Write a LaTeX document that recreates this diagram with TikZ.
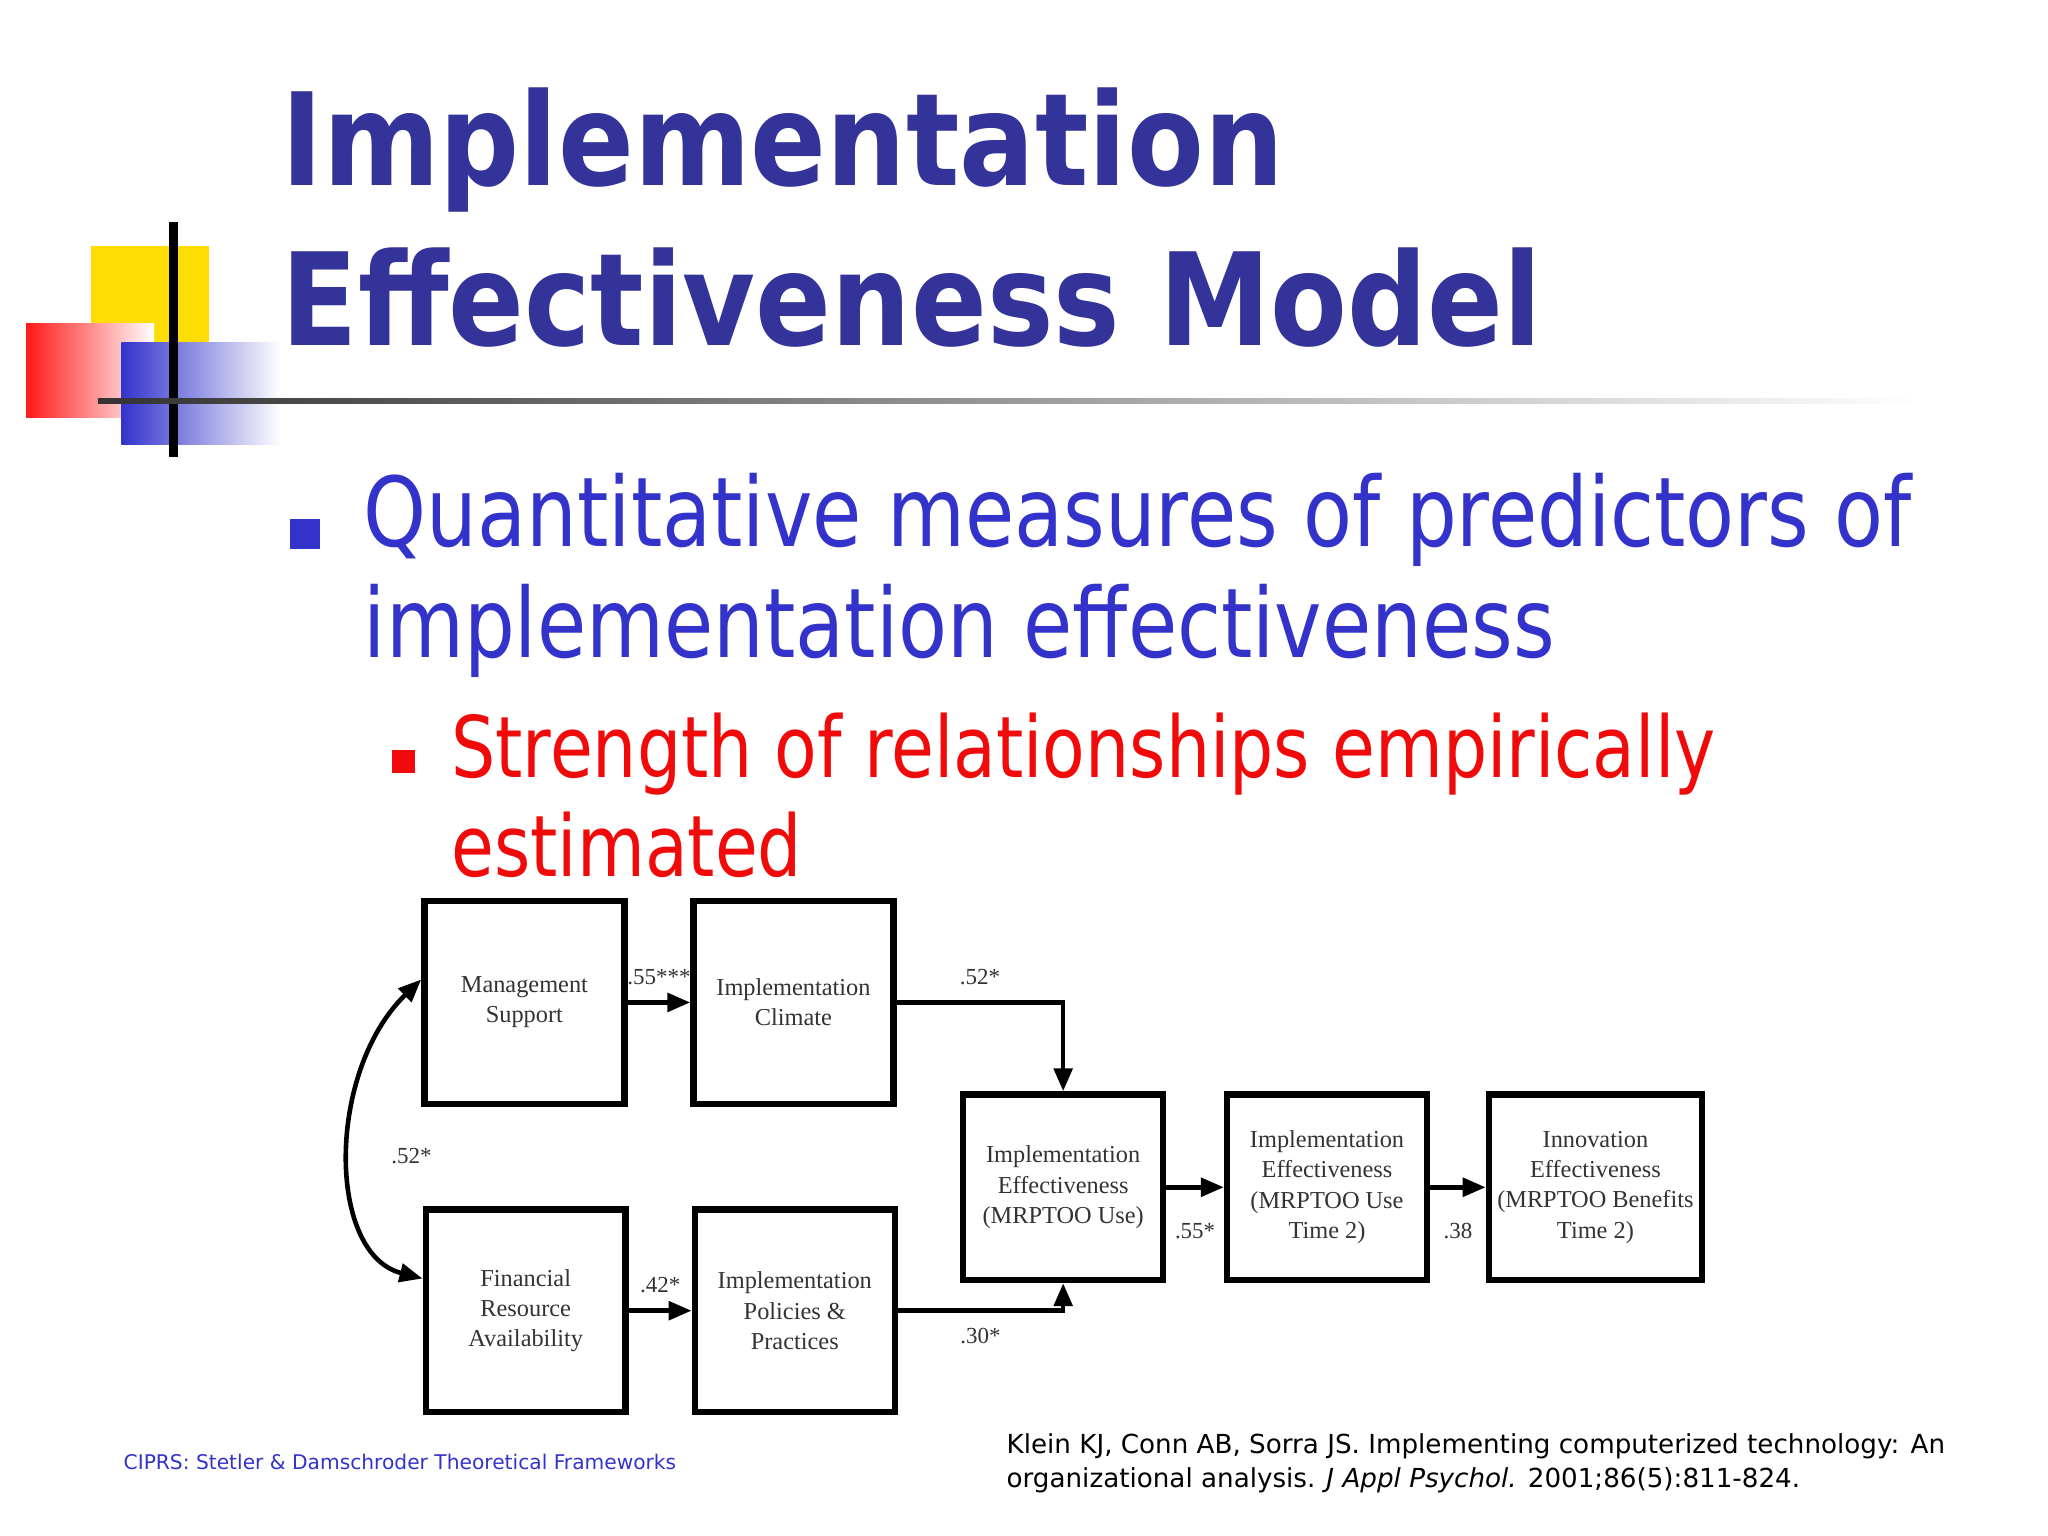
\documentclass[tikz,border=0pt]{standalone}
\usepackage{fontspec}
\setmainfont{DejaVu Sans}
\newfontfamily\serf{Liberation Serif}
\usetikzlibrary{arrows.meta}
\definecolor{tblue}{RGB}{51,51,153}
\definecolor{bblue}{RGB}{51,51,204}
\definecolor{bred}{RGB}{240,10,10}
\begin{document}
\begin{tikzpicture}[x=0.01cm,y=-0.01cm,
 box/.style={draw,line width=1.4pt,minimum width=1.53cm,minimum height=1.55cm,inner sep=0,font=\serf\fontsize{5.3}{6.6}\selectfont,align=center,text=black!80},
 box2/.style={box,minimum height=1.42cm},
 lab/.style={font=\serf\fontsize{5}{6}\selectfont,text=black!80},
 arr/.style={-{Triangle[length=5pt,width=4pt]},line width=1pt}]
\useasboundingbox (0,0) rectangle (1568,1176);
\fill[white] (0,0) rectangle (1568,1176);
% decoration
\fill[yellow!80!orange] (70,188) rectangle (160,262);
\shade[left color=red!90,right color=white] (20,248) rectangle (118,320);
\shade[left color=bblue,right color=white] (93,262) rectangle (215,340);
\draw[line width=2pt] (133,170) -- (133,350);
\shade[left color=black!80,right color=white] (75,305) rectangle (1470,309);
% title
\node[anchor=west,inner sep=0,text=tblue,font=\bfseries\fontsize{28}{32}\selectfont,xscale=0.87] (t1) at (215,115) {Implementation};
\node[anchor=west,inner sep=0,text=tblue,font=\bfseries\fontsize{28}{32}\selectfont,xscale=0.87] (t2) at (215,228) {Effectiveness Model};
% bullets
\fill[bblue] (222,397) rectangle (245,420);
\node[anchor=west,inner sep=0,text=bblue,font=\fontsize{21}{24}\selectfont,xscale=0.83] (b1) at (278,398) {Quantitative measures of predictors of};
\node[anchor=west,inner sep=0,text=bblue,font=\fontsize{21}{24}\selectfont,xscale=0.83] (b2) at (278,483) {implementation effectiveness};
\fill[bred] (300,574) rectangle (318,592);
\node[anchor=west,inner sep=0,text=bred,font=\fontsize{18.5}{22}\selectfont,xscale=0.82] (b3) at (345,577) {Strength of relationships empirically};
\node[anchor=west,inner sep=0,text=bred,font=\fontsize{18.5}{22}\selectfont,xscale=0.82] (b4) at (345,647) {estimated};
% diagram
\node[box] (ms) at (401.5,767.5) {Management\\Support};
\node[box] (ic) at (607.5,767.5) {Implementation\\Climate};
\node[box] (fr) at (402.5,1003.5) {Financial\\Resource\\Availability};
\node[box] (ip) at (608.5,1003.5) {Implementation\\Policies \&\\Practices};
\node[box2] (e1) at (814,909) {Implementation\\Effectiveness\\(MRPTOO Use)};
\node[box2] (e2) at (1016,909) {Implementation\\Effectiveness\\(MRPTOO Use\\Time 2)};
\node[box2,minimum width=1.63cm] (in) at (1221.5,909) {Innovation\\Effectiveness\\(MRPTOO Benefits\\Time 2)};
\draw[arr] (ms.east) -- (ic.west) node[lab,midway,above] {.55***};
\draw[arr] (fr.east) -- (ip.west) node[lab,midway,above] {.42*};
\draw[arr] (ic.east) -| (e1.north) node[lab,pos=0.25,above] {.52*};
\draw[arr] (ip.east) -| (e1.south) node[lab,pos=0.25,below] {.30*};
\draw[arr] (e1.east) -- (e2.west) node[lab,midway,below=4pt] {.55*};
\draw[arr] (e2.east) -- (in.west) node[lab,midway,below=4pt] {.38};
\draw[{Triangle[length=5pt,width=4pt]}-{Triangle[length=5pt,width=4pt]},line width=1pt] ([yshift=5]ms.west) .. controls (250,820) and (250,960) .. ([yshift=7]fr.west);
\node[lab] (r) at (315,885) {.52*};
% footer
\node[anchor=west,inner sep=0,text=bblue,font=\fontsize{4.4}{5}\selectfont] (f1) at (94,1119) {CIPRS: Stetler \& Damschroder Theoretical Frameworks};
\node[anchor=north west,align=left,font=\fontsize{5.7}{7.4}\selectfont,inner sep=0] (f2) at (770,1097) {Klein KJ, Conn AB, Sorra JS. Implementing computerized technology: An\\organizational analysis. \textit{J Appl Psychol.} 2001;86(5):811-824.};
\end{tikzpicture}
\end{document}
